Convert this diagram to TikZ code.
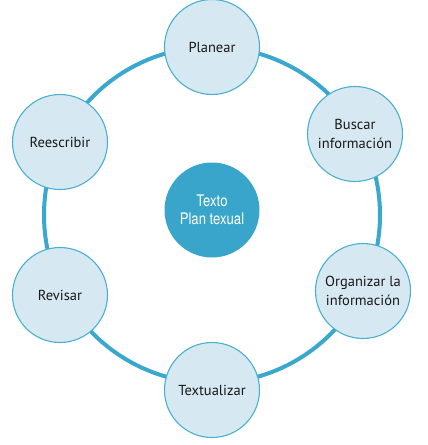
\documentclass[tikz,border=0pt]{standalone}
\usepackage{fontspec}
\setmainfont{PT Sans}
\newfontfamily\condfont[FakeStretch=0.82]{TeX Gyre Heros}
\definecolor{ringblue}{HTML}{3AA7CF}
\definecolor{nodefill}{HTML}{D6E8F1}
\definecolor{nodeedge}{HTML}{4BAFD2}
\definecolor{centerfill}{HTML}{39A5CB}
\definecolor{txt}{HTML}{1A1718}
\tikzset{
  stage/.style={circle, draw=nodeedge, line width=1.1pt, fill=nodefill,
    minimum size=95pt, inner sep=0pt, align=center, text=txt,
    font=\fontsize{14.5}{18.5}\selectfont},
  hub/.style={circle, fill=centerfill, minimum size=95pt, inner sep=0pt,
    align=center, text=white, font=\condfont\fontsize{16}{18.5}\selectfont},
  ring/.style={draw=ringblue, line width=4pt}
}
\begin{document}
\begin{tikzpicture}[x=1pt,y=-1pt]
\useasboundingbox (0,0) rectangle (428,445);
\coordinate (rc) at (212,215);
\draw[ring] (rc) circle[radius=168];
\node[hub] (hub) at (212,210) {Texto\\Plan texual};
\node[stage] (plan) at (212,47) {Planear};
\node[stage] (busc) at (355,134) {Buscar\\información};
\node[stage] (org) at (363,291) {Organizar la\\información};
\node[stage] (text) at (212,390) {Textualizar};
\node[stage] (rev) at (60,295) {Revisar};
\node[stage] (rees) at (60,142) {Reescribir};
\end{tikzpicture}
\end{document}
